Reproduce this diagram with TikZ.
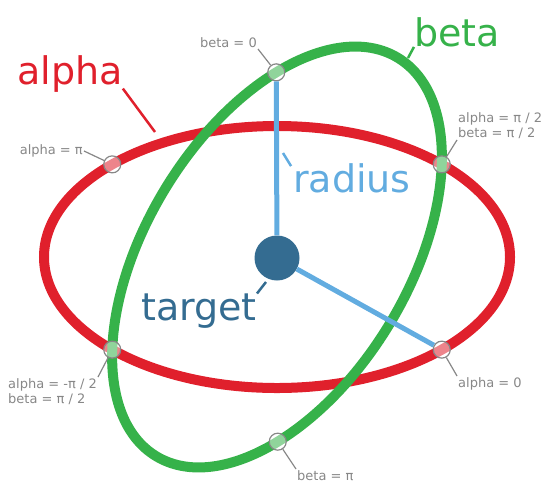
\documentclass[tikz,border=0pt]{standalone}
\usepackage{fontspec}
\setmainfont{DejaVu Sans}
\usepackage{xcolor}
\usetikzlibrary{positioning,calc}
\definecolor{alphared}{RGB}{224,32,44}
\definecolor{betagreen}{RGB}{54,178,74}
\definecolor{radiusblue}{RGB}{98,172,224}
\definecolor{targetblue}{RGB}{52,108,145}
\definecolor{notegray}{RGB}{135,135,135}

\begin{document}
\begin{tikzpicture}[
    x=1pt, y=1pt,
    orbit/.style={line width=10pt},
    spoke/.style={line width=5pt, color=radiusblue},
    handle/.style={circle, draw=notegray, line width=1.2pt, fill=white, fill opacity=0.45, minimum size=17pt, inner sep=0pt},
    note/.style={font=\fontsize{13}{15.5}\selectfont, text=notegray, inner sep=1pt, align=left},
    heading/.style={font=\fontsize{38}{40}\selectfont, inner sep=0pt},
    leader/.style={draw=notegray, line width=1.2pt},
    tick/.style={line width=2.5pt}
]
\useasboundingbox (0,0) rectangle (553,-485);

% Rings
\draw[orbit, alphared] (277,-257) ellipse [x radius=233, y radius=131];
\draw[orbit, betagreen, rotate around={58.7:(277,-257)}] (277,-257) ellipse [x radius=233, y radius=131];

% Points on the rings
\begin{scope}[shift={(277,-257)}]
    \coordinate (apos) at (135:233 and 131);
    \coordinate (aboth) at (45:233 and 131);
    \coordinate (aneg) at (225:233 and 131);
    \coordinate (azero) at (-45:233 and 131);
\end{scope}
\begin{scope}[shift={(277,-257)}, rotate=58.7]
    \coordinate (bzero) at (47.5:233 and 131);
    \coordinate (bpi) at (227.5:233 and 131);
\end{scope}

% Target and handles
\node[circle, fill=targetblue, minimum size=45pt, inner sep=0pt] (target) at (277,-258) {};
\node[handle] (hapi) at (apos) {};
\node[handle] (hboth) at (aboth) {};
\node[handle] (hneg) at (aneg) {};
\node[handle] (hazero) at (azero) {};
\node[handle] (hbzero) at (bzero) {};
\node[handle] (hbpi) at (bpi) {};

% Radius spokes
\draw[spoke] (target) -- (hbzero);
\draw[spoke] (target) -- (hazero);

% Headings
\node[heading, text=alphared] (alphatitle) at (70,-74) {alpha};
\node[heading, text=betagreen] (betatitle) at (457,-32) {beta};
\node[heading, text=radiusblue] (radiustitle) at (352,-178) {radius};
\node[heading, text=targetblue] (targettitle) at (199,-311) {target};

\coordinate (alphatip) at (155,-132);
\coordinate (betatip) at (408,-58);
\coordinate (radiustip) at (283,-153);
\coordinate (targettip) at (266,-282);

\draw[tick, alphared] ([yshift=4pt]alphatitle.south east) -- (alphatip);
\draw[tick, betagreen] (betatitle.south west) -- (betatip);
\draw[tick, radiusblue] ([shift={(-2,-3)}]radiustitle.north west) -- (radiustip);
\draw[tick, targetblue] (targettitle.north east) -- (targettip);

% Angle notes
\node[note, anchor=south east] (nbzero) at (258,-49) {beta = 0};
\node[note, anchor=east] (napi) at (84,-151) {alpha = π};
\node[note, anchor=south west] (nboth) at (457,-140) {alpha = π / 2\\beta = π / 2};
\node[note, anchor=north east] (nneg) at (98,-377) {alpha = -π / 2\\beta = π / 2};
\node[note, anchor=north west] (nazero) at (457,-376) {alpha = 0};
\node[note, anchor=north west] (nbpi) at (296,-469) {beta = π};

\draw[leader] (nbzero.south east) -- (hbzero);
\draw[leader] (napi.east) -- (hapi);
\draw[leader] (nboth.south west) -- (hboth);
\draw[leader] (nneg.north east) -- (hneg);
\draw[leader] (nazero.north west) -- (hazero);
\draw[leader] (nbpi.north west) -- (hbpi);

\end{tikzpicture}
\end{document}
